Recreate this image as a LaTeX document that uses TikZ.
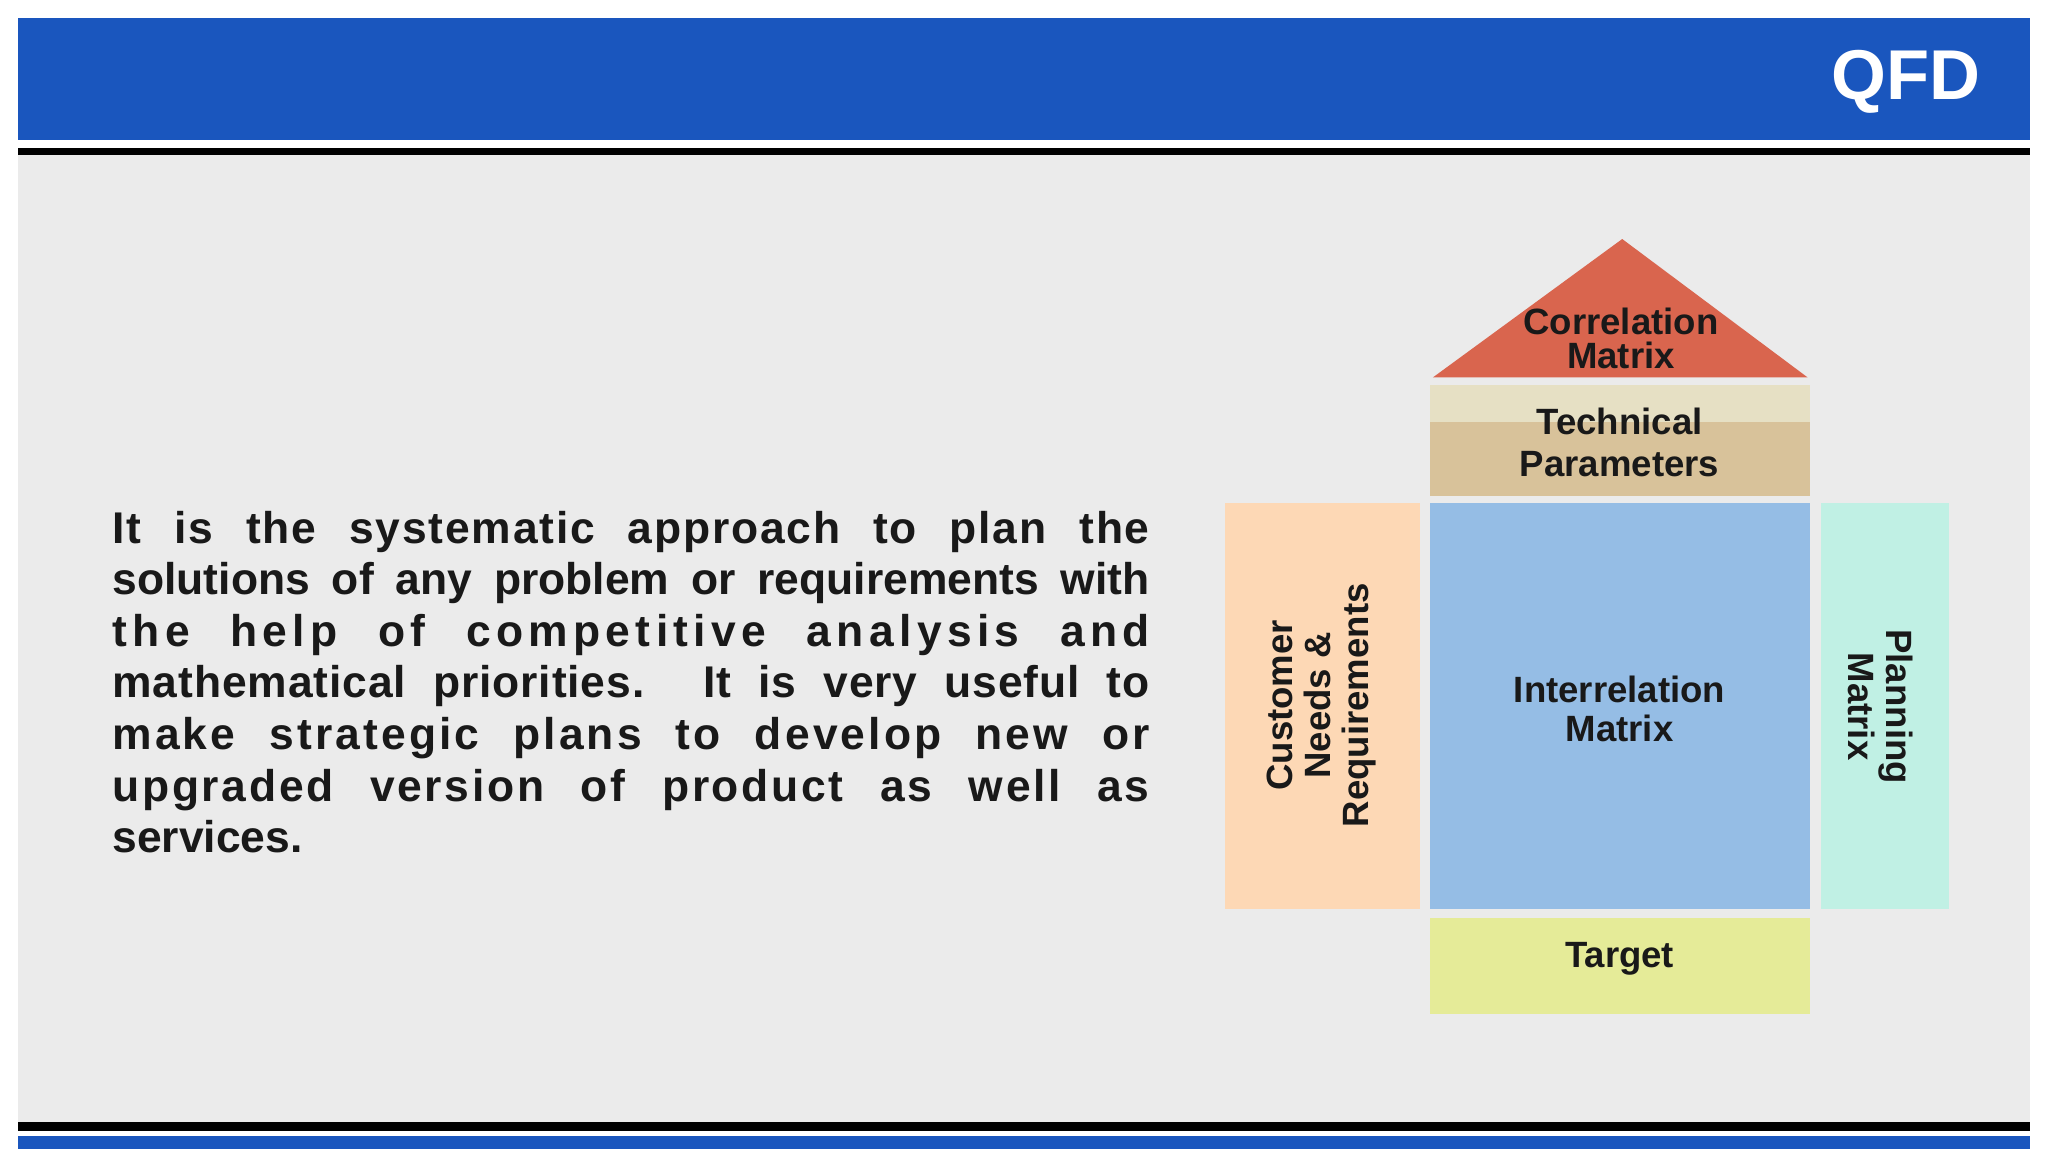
\documentclass[tikz,border=0pt]{standalone}
\usepackage{fontspec}
\setmainfont{Liberation Sans}
\newcommand{\lsp}[2]{{\addfontfeature{LetterSpace=#1}#2}}
\begin{document}
\begin{tikzpicture}[x=1pt,y=-1pt,
 lab/.style={font=\fontsize{28}{28}\selectfont\bfseries,align=center,text=black!90}]
\useasboundingbox (0,0) rectangle (1568,895);
\definecolor{hb}{HTML}{1A56BE}
\definecolor{tri}{HTML}{D9654E}
\definecolor{tp1}{HTML}{E6E0C4}
\definecolor{tp2}{HTML}{D8C29A}
\definecolor{cu}{HTML}{FDD8B5}
\definecolor{im}{HTML}{95BDE5}
\definecolor{pm}{HTML}{C0F0E4}
\definecolor{tg}{HTML}{E5EB98}
\fill[white] (0,0) rectangle (1568,895);
\fill[black!8!white] (14,14) rectangle (1554,868);
\fill[white] (14,107) rectangle (1554,113);
\fill[black] (14,113) rectangle (1554,119);
\fill[black] (14,859) rectangle (1554,866);
\fill[white] (14,866) rectangle (1554,870);
\fill[hb] (14,14) rectangle (1554,107);
\fill[hb] (14,870) rectangle (1554,880);
\node[text=white,font=\fontsize{54}{54}\selectfont\bfseries,anchor=east] (title) at (1520,63) {QFD};
\node[anchor=north west,text width=794pt,align=justify,inner sep=0pt,
 font=\fontsize{34}{39.5}\selectfont\bfseries,text=black!90] (para) at (86,391)
 {\lsp{4}{It is the systematic approach to plan the}\linebreak
 solutions of any problem or requirements with\linebreak
 \lsp{12}{the help of competitive analysis and}\linebreak
 \lsp{2}{mathematical priorities. It is very useful to}\linebreak
 \lsp{7}{make strategic plans to develop new or}\linebreak
 \lsp{6}{upgraded version of product as well as}\linebreak
 services.};
\fill[tri] (1242,183) -- (1384,289) -- (1097,289) -- cycle;
\node[lab] (corr) at (1241,259) {Correlation\\[-2pt]Matrix};
\fill[tp2] (1095,295) rectangle (1386,380);
\fill[tp1] (1095,295) rectangle (1386,323);
\node[lab] (tech) at (1240,339) {Technical\\[4pt]Parameters};
\fill[cu] (938,385) rectangle (1087,696);
\node[lab,rotate=90] (cust) at (1012,540) {Customer\\[1pt]Needs \&\\[1pt]Requirements};
\fill[im] (1095,385) rectangle (1386,696);
\node[lab] (inter) at (1240,543) {Interrelation\\[2pt]Matrix};
\fill[pm] (1394,385) rectangle (1492,696);
\node[lab,rotate=-90] (plan) at (1440,541) {Planning\\[1pt]Matrix};
\fill[tg] (1095,703) rectangle (1386,776);
\node[lab] (target) at (1240,734) {Target};
\end{tikzpicture}
\end{document}
